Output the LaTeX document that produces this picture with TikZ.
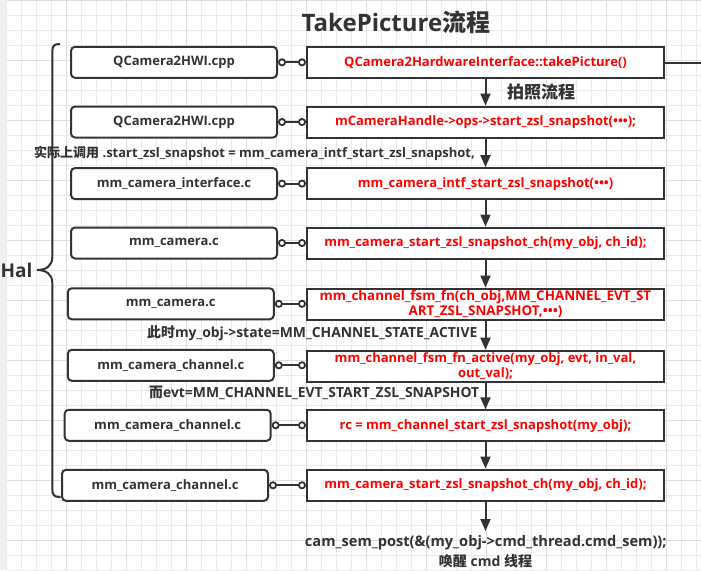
\documentclass[tikz,border=0pt]{standalone}
\usepackage{fontspec}
\setmainfont{Open Sans}
\newfontfamily\cjk{Noto Sans CJK SC}
\usetikzlibrary{arrows.meta}
\definecolor{dk}{HTML}{333333}
\definecolor{rd}{HTML}{FF0000}
\definecolor{strip}{HTML}{F0F0F0}
\definecolor{gridl}{HTML}{EBEBEB}
\definecolor{gridd}{HTML}{DEDEDE}
\tikzset{
  lbox/.style={draw=dk, line width=2pt, rounded corners=4pt, fill=white,
    minimum width=206pt, minimum height=31pt, inner sep=0pt,
    font=\fontsize{13}{15}\selectfont\bfseries, text=dk},
  rbox/.style={draw=dk, line width=2pt, fill=white,
    minimum width=357pt, minimum height=31pt, inner sep=0pt, align=center,
    font=\fontsize{13}{14.5}\selectfont\bfseries, text=rd},
  conn/.style={draw=dk, line width=1.8pt,
    {Circle[open,length=8pt,width=8pt]}-{Circle[open,length=8pt,width=8pt]}},
  arr/.style={draw=dk, line width=2pt, -{Triangle[length=12pt,width=10pt]}},
  lbl/.style={text=dk, font=\bfseries, inner sep=0pt},
}
\begin{document}
\begin{tikzpicture}[x=1pt,y=-1pt]
\useasboundingbox (0,0) rectangle (701,570);
\fill[white] (0,0) rectangle (701,570);
\fill[strip] (0,0) rectangle (6.7,570);
\foreach \k in {0,...,46} {\draw[gridl, line width=0.8pt] ({6.7+15*\k},0) -- ({6.7+15*\k},570);}
\foreach \k in {0,...,38} {\draw[gridl, line width=0.8pt] (6.7,{15*\k}) -- (701,{15*\k});}
\foreach \k in {0,...,10} {\draw[gridd, line width=0.9pt] ({66.7+60*\k},0) -- ({66.7+60*\k},570);}
\foreach \k in {0,...,9} {\draw[gridd, line width=0.9pt] (6.7,{60*\k}) -- (701,{60*\k});}

% title
\node[text=dk, font=\fontsize{24}{28}\selectfont\bfseries, inner sep=0pt] (title) at (396,22) {TakePicture{\cjk 流程}};

% brace
\draw[dk, line width=2pt, line cap=round] (59.5,44) .. controls (54,44) and (52.3,46) .. (52.3,52)
  -- (52.3,257) .. controls (52.3,266) and (46,270) .. (37,270)
  .. controls (46,270) and (52.3,274) .. (52.3,283)
  -- (52.3,489) .. controls (52.3,495) and (54,497) .. (60,497);
\node[text=dk, font=\fontsize{19}{22}\selectfont\bfseries, inner sep=0pt, anchor=west] (hal) at (0.5,270) {Hal};

% left boxes
\node[lbox] (L1) at (174,62.3) {QCamera2HWI.cpp};
\node[lbox] (L2) at (174,122) {QCamera2HWI.cpp};
\node[lbox] (L3) at (174,183.6) {mm\_camera\_interface.c};
\node[lbox] (L4) at (174,243) {mm\_camera.c};
\node[lbox] (L5) at (170.8,303.8) {mm\_camera.c};
\node[lbox] (L6) at (170.8,365.3) {mm\_camera\_channel.c};
\node[lbox] (L7) at (167.7,425.3) {mm\_camera\_channel.c};
\node[lbox] (L8) at (165,485.3) {mm\_camera\_channel.c};

% right boxes
\node[rbox] (R1) at (485.5,62.8) {QCamera2HardwareInterface::takePicture()};
\node[rbox] (R2) at (485.5,122) {mCameraHandle->ops->start\_zsl\_snapshot(•••);};
\node[rbox] (R3) at (485.5,183.6) {mm\_camera\_intf\_start\_zsl\_snapshot(•••)};
\node[rbox] (R4) at (485.5,243) {mm\_camera\_start\_zsl\_snapshot\_ch(my\_obj, ch\_id);};
\node[rbox, font=\fontsize{13.4}{14.5}\selectfont\bfseries] (R5) at (485.5,304) {mm\_channel\_fsm\_fn(ch\_obj,MM\_CHANNEL\_EVT\_ST\\ART\_ZSL\_SNAPSHOT,•••)};
\node[rbox] (R6) at (485.5,366.2) {mm\_channel\_fsm\_fn\_active(my\_obj, evt, in\_val,\\out\_val);};
\node[rbox] (R7) at (485.5,425.8) {rc = mm\_channel\_start\_zsl\_snapshot(my\_obj);};
\node[rbox] (R8) at (485.5,485) {mm\_camera\_start\_zsl\_snapshot\_ch(my\_obj, ch\_id);};

% connectors left-right
\foreach \i in {1,...,8} {\draw[conn] (L\i.east) -- (R\i.west |- L\i.east);}

% flow arrows
\draw[arr] (R1) -- (R2);
\draw[arr] (R2) -- (R3);
\draw[arr] (R3) -- (R4);
\draw[arr] (R4) -- (R5);
\draw[arr] (R5) -- (R6);
\draw[arr] (R6) -- (R7);
\draw[arr] (R7) -- (R8);
\coordinate (end) at (485.5,531);
\draw[arr] (R8) -- (end);
\coordinate (rightedge) at (701,62.8);
\draw[dk, line width=2pt] (R1.east) -- (rightedge);

% labels
\node[text=dk, font=\fontsize{17}{20}\selectfont\bfseries\cjk, inner sep=0pt] (pz) at (541,92.5) {拍照流程};
\node[lbl, anchor=west, font=\fontsize{13}{15}\selectfont\bfseries] (t1) at (34,153) {{\cjk 实际上调用} .start\_zsl\_snapshot = mm\_camera\_intf\_start\_zsl\_snapshot,};
\node[lbl, anchor=west, font=\fontsize{13.9}{15}\selectfont\bfseries] (t2) at (147,333) {{\cjk 此时}my\_obj->state=MM\_CHANNEL\_STATE\_ACTIVE};
\node[lbl, anchor=west, font=\fontsize{13.9}{15}\selectfont\bfseries] (t3) at (149,393) {{\cjk 而}evt=MM\_CHANNEL\_EVT\_START\_ZSL\_SNAPSHOT};
\node[lbl, font=\fontsize{14.6}{16}\selectfont\bfseries] (t4) at (485.8,543) {cam\_sem\_post(\&(my\_obj->cmd\_thread.cmd\_sem));};
\node[lbl, font=\fontsize{14}{16}\selectfont\bfseries] (t5) at (485.5,561) {{\cjk 唤醒} cmd {\cjk 线程}};
\end{tikzpicture}
\end{document}
